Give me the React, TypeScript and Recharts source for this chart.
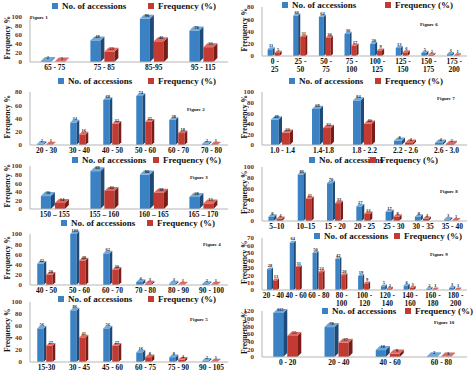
import React from 'react';
import { BarChart, Bar, XAxis, YAxis, LabelList } from 'recharts';

// categories / values for every small figure
const fig1Cats = ['65 - 75', '75 - 85', '85-95', '95 - 115'];
const fig1Acc = [2, 48, 96, 70];
const fig1Freq = [1, 23, 46, 33];

const fig2Cats = ['20 - 30', '30 - 40', '40 - 50', '50 - 60', '60 - 70', '70 - 80'];
const fig2Acc = [2, 34, 68, 74, 38, 2];
const fig2Freq = [1, 16, 32, 35, 18, 1];

const fig3Cats = ['150 – 155', '155 – 160', '160 – 165', '165 – 170'];
const fig3Acc = [30, 88, 80, 28];
const fig3Freq = [14, 42, 38, 13];

const fig4Cats = ['40 - 50', '50 - 60', '60 - 70', '70 - 80', '80 - 90', '90 - 100'];
const fig4Acc = [42, 100, 62, 6, 3, 2];
const fig4Freq = [20, 48, 30, 3, 1, 1];

const fig5Cats = ['15-30', '30 - 45', '45 - 60', '60 - 75', '75 - 90', '90 - 105'];
const fig5Acc = [56, 86, 56, 16, 8, 2];
const fig5Freq = [27, 41, 27, 8, 4, 1];

const fig6Cats = ['0 - 25', '25 - 50', '50 - 75', '75 - 100', '100 - 125', '125 - 150', '150 - 175', '175 - 200'];
const fig6Acc = [11, 66, 64, 36, 20, 13, 5, 3];
const fig6Freq = [5, 31, 30, 17, 9, 6, 2, 1];

const fig7Cats = ['1.0 - 1.4', '1.4-1.8', '1.8 - 2.2', '2.2 - 2.6', '2.6 - 3.0'];
const fig7Acc = [48, 68, 84, 8, 4];
const fig7Freq = [23, 32, 40, 4, 2];

const fig8Cats = ['5–10', '10–15', '15 - 20', '20 - 25', '25 - 30', '30 - 35', '35 - 40'];
const fig8Acc = [8, 86, 70, 27, 17, 8, 3];
const fig8Freq = [4, 41, 33, 13, 8, 4, 1];

const fig9Cats = ['20 - 40', '40 - 60', '60 - 80', '80 - 100', '100 - 120', '120 - 140', '140 - 160', '160 - 180', '180 - 200'];
const fig9Acc = [28, 64, 50, 42, 19, 5, 6, 2, 3];
const fig9Freq = [13, 31, 24, 20, 9, 2, 3, 1, 1];

const fig10Cats = ['0 - 20', '20 - 40', '40 - 60', '60 - 80'];
const fig10Acc = [115, 78, 18, 2];
const fig10Freq = [55, 37, 9, 1];

const ticks100 = [0, 20, 40, 60, 80, 100];
const ticks80 = [0, 20, 40, 60, 80];
const ticks70 = [0, 10, 20, 30, 40, 50, 60, 70];
const ticks120 = [0, 20, 40, 60, 80, 100, 120];

const serif = '"Liberation Serif", "Times New Roman", serif';
const BLUE = '#3a82c4';
const RED = '#c23a31';

const make3D = (front: string, side: string, top: string) => (props: any) => {
  const { x, y, width, height } = props;
  if (x == null || width == null) return null;
  const d = Math.min(4, width * 0.3);
  const w = width - d;
  const h = Math.max(height, 0);
  return (
    <g>
      <rect x={x} y={y} width={w} height={h} fill={front} />
      <polygon points={`${x + w},${y} ${x + w + d},${y - d} ${x + w + d},${y + h - d} ${x + w},${y + h}`} fill={side} />
      <polygon points={`${x},${y} ${x + w},${y} ${x + w + d},${y - d} ${x + d},${y - d}`} fill={top} />
    </g>
  );
};

const blueShape = make3D(BLUE, '#1f4a78', '#6fa8db');
const redShape = make3D(RED, '#7a1d18', '#dd6a62');

const valueLabel = (props: any) => {
  const { x, y, width, value } = props;
  return (
    <text x={x + width / 2} y={y - 2} textAnchor="middle" fontSize={4.5} fontWeight="bold" fill="#222" fontFamily={serif}>
      {value}
    </text>
  );
};

const CatTick = (props: any) => {
  const { x, y, payload, wrapLen } = props;
  const s: string = payload.value;
  let lines = [s];
  if (wrapLen != null && s.length > wrapLen && s.includes(' - ')) {
    const [a, b] = s.split(' - ');
    lines = [a + ' -', b];
  }
  return (
    <text x={x} y={y + 6} textAnchor="middle" fontSize={7.5} fontWeight="bold" fill="#111" fontFamily={serif}>
      {lines.map((l, i) => (
        <tspan key={i} x={x} dy={i === 0 ? 0 : 7.5}>{l}</tspan>
      ))}
    </text>
  );
};

interface PanelProps {
  left: number;
  width: number;
  topY: number;
  zeroY: number;
  xh: number;
  yw: number;
  mr: number;
  cats: string[];
  acc: number[];
  freq: number[];
  yMax: number;
  ticks: number[];
  wrapLen?: number;
}

const Panel = ({ left, width, topY, zeroY, xh, yw, mr, cats, acc, freq, yMax, ticks, wrapLen }: PanelProps) => {
  const data = cats.map((c, i) => ({ cat: c, acc: acc[i], freq: freq[i] }));
  const height = 5 + (zeroY - topY) + xh;
  return (
    <div style={{ position: 'absolute', left, top: topY - 5 }}>
      <BarChart width={width} height={height} data={data} margin={{ top: 5, right: mr, left: 0, bottom: 0 }} barCategoryGap="22%" barGap={0}>
        <XAxis
          dataKey="cat"
          height={xh}
          interval={0}
          tickLine={false}
          tickSize={0}
          tickMargin={2}
          axisLine={{ stroke: '#b5b5b5' }}
          tick={<CatTick wrapLen={wrapLen} />}
        />
        <YAxis
          width={yw}
          domain={[0, yMax]}
          ticks={ticks}
          interval={0}
          tickLine={false}
          axisLine={{ stroke: '#b5b5b5' }}
          tick={{ fontSize: 7, fontWeight: 'bold', fill: '#7a1f1f', fontFamily: serif }}
          tickMargin={2}
          label={{ value: 'Frequency %', angle: -90, position: 'insideLeft', offset: 7, fontSize: 7.5, fontWeight: 'bold', fill: '#111', fontFamily: serif, dy: 20 }}
        />
        <Bar dataKey="acc" shape={blueShape} isAnimationActive={false}>
          <LabelList dataKey="acc" content={valueLabel} />
        </Bar>
        <Bar dataKey="freq" shape={redShape} isAnimationActive={false}>
          <LabelList dataKey="freq" content={valueLabel} />
        </Bar>
      </BarChart>
    </div>
  );
};

const LegendRow = ({ y, bx, rx }: { y: number; bx: number; rx: number }) => {
  const sq = (left: number, color: string, text: string) => (
    <div style={{ position: 'absolute', left, top: y - 6, display: 'flex', alignItems: 'center', whiteSpace: 'nowrap' }}>
      <span style={{ display: 'inline-block', width: 6, height: 6, background: color, marginRight: 4 }} />
      <span style={{ fontFamily: serif, fontWeight: 'bold', fontSize: 9, color: '#111', lineHeight: '12px' }}>{text}</span>
    </div>
  );
  return (
    <>
      {sq(bx, BLUE, 'No. of accessions')}
      {sq(rx, RED, 'Frequency (%)')}
    </>
  );
};

const FigLabel = ({ x, y, n }: { x: number; y: number; n: number }) => (
  <div style={{ position: 'absolute', left: x - 10, top: y - 3, fontFamily: serif, fontWeight: 'bold', fontSize: 5, color: '#111', whiteSpace: 'nowrap' }}>
    Figure {n}
  </div>
);

export default function App() {
  const L = { left: 0, width: 232, yw: 30, mr: 4 };
  const R = { left: 237, width: 237, yw: 25, mr: 7 };
  return (
    <div style={{ position: 'absolute', left: 0, top: 0, width: 474, height: 372, background: '#fff', overflow: 'hidden' }}>
      <Panel {...L} topY={17} zeroY={62} xh={12} cats={fig1Cats} acc={fig1Acc} freq={fig1Freq} yMax={100} ticks={ticks100} />
      <Panel {...L} topY={92} zeroY={145} xh={12} cats={fig2Cats} acc={fig2Acc} freq={fig2Freq} yMax={80} ticks={ticks80} />
      <Panel {...L} topY={166} zeroY={209} xh={12} cats={fig3Cats} acc={fig3Acc} freq={fig3Freq} yMax={100} ticks={ticks100} />
      <Panel {...L} topY={234} zeroY={285} xh={12} cats={fig4Cats} acc={fig4Acc} freq={fig4Freq} yMax={100} ticks={ticks100} />
      <Panel {...L} topY={302} zeroY={362} xh={12} cats={fig5Cats} acc={fig5Acc} freq={fig5Freq} yMax={100} ticks={ticks100} />

      <Panel {...R} topY={7} zeroY={56} xh={20} cats={fig6Cats} acc={fig6Acc} freq={fig6Freq} yMax={80} ticks={ticks80} wrapLen={0} />
      <Panel {...R} topY={92} zeroY={145} xh={12} cats={fig7Cats} acc={fig7Acc} freq={fig7Freq} yMax={100} ticks={ticks100} />
      <Panel {...R} topY={167} zeroY={221} xh={12} cats={fig8Cats} acc={fig8Acc} freq={fig8Freq} yMax={100} ticks={ticks100} />
      <Panel {...R} topY={238} zeroY={290} xh={20} cats={fig9Cats} acc={fig9Acc} freq={fig9Freq} yMax={70} ticks={ticks70} wrapLen={7} />
      <Panel {...R} topY={311} zeroY={357} xh={12} cats={fig10Cats} acc={fig10Acc} freq={fig10Freq} yMax={120} ticks={ticks120} />

      <LegendRow y={6} bx={52} rx={148} />
      <LegendRow y={81} bx={58} rx={148} />
      <LegendRow y={160} bx={72} rx={153} />
      <LegendRow y={223} bx={61} rx={147} />
      <LegendRow y={299} bx={58} rx={148} />

      <LegendRow y={5} bx={282} rx={385} />
      <LegendRow y={81} bx={289} rx={375} />
      <LegendRow y={160} bx={309} rx={370} />
      <LegendRow y={236} bx={314} rx={394} />
      <LegendRow y={311} bx={322} rx={405} />

      <FigLabel x={40} y={18} n={1} />
      <FigLabel x={197} y={110} n={2} />
      <FigLabel x={200} y={178} n={3} />
      <FigLabel x={213} y={245} n={4} />
      <FigLabel x={200} y={320} n={5} />
      <FigLabel x={430} y={25} n={6} />
      <FigLabel x={447} y={99} n={7} />
      <FigLabel x={450} y={192} n={8} />
      <FigLabel x={440} y={255} n={9} />
      <FigLabel x={444} y={323} n={10} />
    </div>
  );
}
